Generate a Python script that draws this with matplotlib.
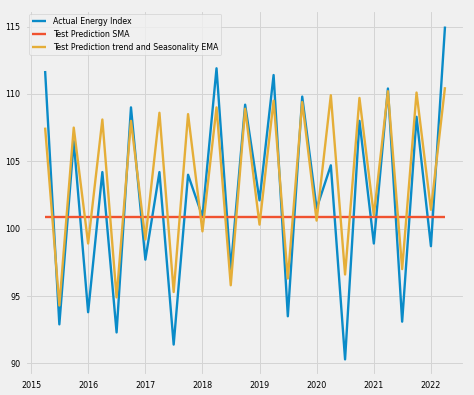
import matplotlib
matplotlib.use("Agg")
import matplotlib.pyplot as plt
import matplotlib.dates as mdates
import pandas as pd

plt.style.use("fivethirtyeight")

dates = pd.date_range("2015-04-01", "2022-04-01", freq="QS")

actual = [111.7, 92.9, 106.5, 93.8, 104.2, 92.3, 109.0, 97.7, 104.2, 91.4,
          104.0, 100.9, 111.9, 97.0, 109.2, 102.1, 111.4, 93.5, 109.8, 101.5,
          104.7, 90.3, 108.0, 98.9, 110.4, 93.1, 108.3, 98.7, 115.0]

ema = [107.5, 94.3, 107.5, 98.9, 108.1, 94.9, 108.0, 99.2, 108.6, 95.3,
       108.5, 99.8, 109.0, 95.8, 108.9, 100.3, 109.5, 96.3, 109.4, 100.6,
       109.9, 96.6, 109.7, 101.0, 110.2, 97.0, 110.1, 101.4, 110.5]

sma = [100.9] * len(dates)

fig = plt.figure(figsize=(4.74, 3.95), dpi=100)
ax = fig.add_axes([0.053, 0.048, 0.928, 0.927])

ax.plot(dates, actual, lw=1.7, color="#0a8bc8", label="Actual Energy Index")
ax.plot(dates, sma, lw=1.7, color="#f0522f", label="Test Prediction SMA")
ax.plot(dates, ema, lw=1.7, color="#e5ae38", label="Test Prediction trend and Seasonality EMA")

ax.xaxis.set_major_locator(mdates.YearLocator())
ax.xaxis.set_major_formatter(mdates.DateFormatter("%Y"))
ax.set_yticks([90, 95, 100, 105, 110, 115])
ax.tick_params(labelsize=5.8)
ax.grid(True, lw=0.7, color="#d4d4d4")
ax.legend(loc="upper left", fontsize=5.7, handlelength=1.8)

fig.savefig("out.png", dpi=100)
